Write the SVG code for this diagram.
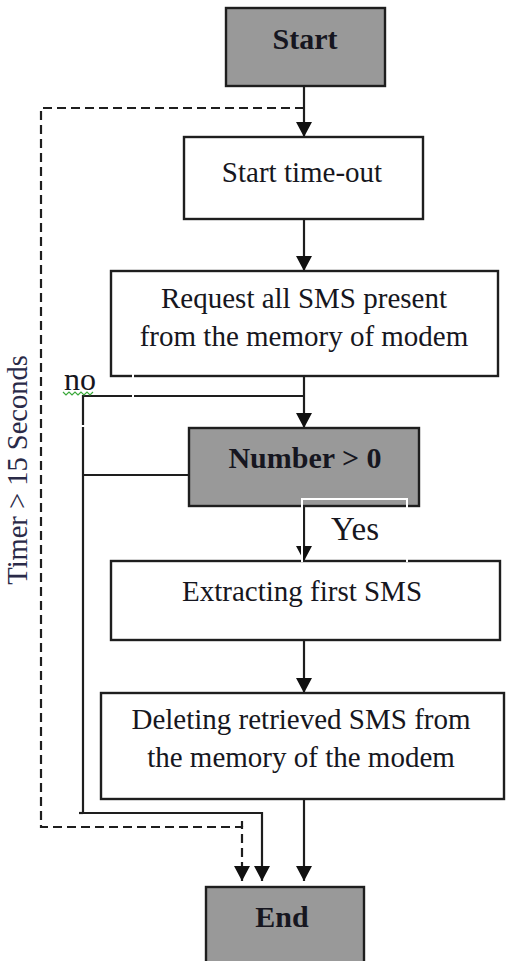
<svg xmlns="http://www.w3.org/2000/svg" width="522" height="961" viewBox="0 0 522 961">
<defs>
<style>
.box{stroke:#1e1e1e;stroke-width:2.4}
.gray{fill:#999999}
.white{fill:#ffffff}
.t{font-family:"Liberation Serif","Times New Roman",serif;font-size:29px;fill:#161620;text-anchor:middle}
.b{font-weight:bold;font-size:30px}
.c{fill:none;stroke:#1e1e1e;stroke-width:2.2}
.d{stroke-dasharray:9,5}
.art{fill:none;stroke:#ffffff;stroke-width:2}
</style>
<marker id="ah" markerUnits="userSpaceOnUse" markerWidth="15" markerHeight="16" refX="15" refY="8" orient="auto">
<path d="M0,0 L15,8 L0,16 z" fill="#111"/>
</marker>
</defs>
<rect width="522" height="961" fill="#ffffff"/>
<g id="connectors">
<path class="c" d="M304,86 V137" marker-end="url(#ah)"/>
<path class="c" d="M304,219 V271" marker-end="url(#ah)"/>
<path class="c" d="M304,376 V428" marker-end="url(#ah)"/>
<path class="c" d="M304,506 V561" marker-end="url(#ah)"/>
<path class="c" d="M304,640 V693" marker-end="url(#ah)"/>
<path class="c" d="M304,799 V881" marker-end="url(#ah)"/>
<path class="c" d="M304,396 H83 V813 H262 V881" marker-end="url(#ah)"/>
<path class="c" d="M189,475 H83"/>
<path class="c" d="M79,813 H83"/>
<path class="c d" d="M304,108 H41 V827 H242 V881" marker-end="url(#ah)"/>
<path class="c" d="M242,821 V827" stroke-width="1.6"/>
</g>
<g id="start">
<rect class="box gray" x="226" y="8" width="159" height="78"/>
<text class="t b" x="305" y="49">Start</text>
</g>
<g id="timeout">
<rect class="box white" x="184" y="137" width="239" height="82"/>
<text class="t" x="302" y="182">Start time-out</text>
</g>
<g id="request">
<rect class="box white" x="111" y="271" width="387" height="105"/>
<text class="t" x="304" y="308">Request all SMS present</text>
<text class="t" x="304" y="346">from the memory of modem</text>
</g>
<g id="decision">
<rect class="box gray" x="189" y="428" width="230" height="78"/>
<text class="t b" x="305" y="468">Number &gt; 0</text>
</g>
<g id="extract">
<rect class="box white" x="111" y="561" width="389" height="79"/>
<text class="t" x="302" y="601">Extracting first SMS</text>
</g>
<g id="delete">
<rect class="box white" x="101" y="693" width="403" height="106"/>
<text class="t" x="301" y="729">Deleting retrieved SMS from</text>
<text class="t" x="301" y="767">the memory of the modem</text>
</g>
<g id="end">
<rect class="box gray" x="206" y="887" width="158" height="80"/>
<text class="t b" x="282" y="927">End</text>
</g>
<g id="labels">
<text class="t" x="80" y="390" style="font-size:32px">no</text>
<path d="M63,392 l3,3 l3,-3 l3,3 l3,-3 l3,3 l3,-3 l3,3 l3,-3 l3,3 l3,-3" fill="none" stroke="#3aa83a" stroke-width="1.2"/>
<text class="t" x="355" y="540" style="font-size:33px">Yes</text>
<text class="t" transform="translate(27,470) rotate(-90)" style="font-size:28.5px;fill:#2a2a48">Timer &gt; 15 Seconds</text>
</g>
<g id="artifacts">
<path class="art" d="M302,562 V499 H407 V562"/>
<path class="art" d="M133,368 V426 H55"/>
</g>
</svg>
